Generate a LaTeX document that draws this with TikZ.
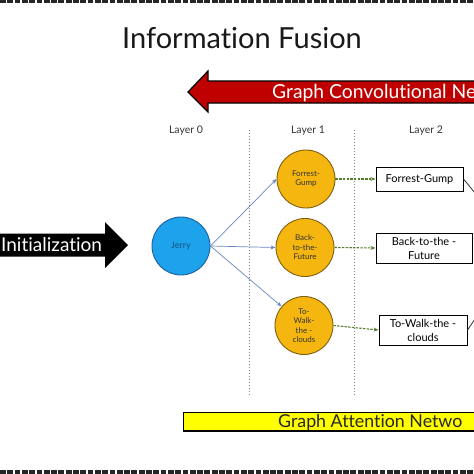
\documentclass[tikz,border=0pt]{standalone}
\usepackage{fontspec}
\setmainfont{Lato}[Ligatures={NoCommon}]
\usetikzlibrary{arrows.meta}
\definecolor{gcnred}{HTML}{C00000}
\definecolor{gatyellow}{HTML}{FFFF00}
\definecolor{jerryblue}{HTML}{1CA3EC}
\definecolor{jerryedge}{HTML}{20609F}
\definecolor{movieorange}{HTML}{F5B70F}
\definecolor{movieedge}{HTML}{7F6010}
\definecolor{linkblue}{HTML}{6A87BF}
\definecolor{dashgreen}{HTML}{557F2E}
\definecolor{sepgray}{HTML}{808080}
\begin{document}
\begin{tikzpicture}[x=1pt,y=-1pt,
  circnode/.style={circle,minimum size=58pt,inner sep=0pt,align=center,line width=0.9pt,
    font=\fontsize{8}{9.5}\selectfont,text=black!80},
  moviebox/.style={rectangle,draw=black,line width=1pt,fill=white,align=center,inner sep=0pt,
    font=\fontsize{11}{14}\selectfont},
  layerlabel/.style={font=\fontsize{10.5}{12}\selectfont,text=black!80},
  linkarrow/.style={draw=linkblue,line width=0.7pt,-{Stealth[length=5pt,width=4pt]}},
  dasharrow/.style={draw=dashgreen,line width=1.1pt,dash pattern=on 2.5pt off 1.2pt,-{Stealth[length=5pt,width=4pt]}},
  sepline/.style={draw=sepgray,line width=0.8pt,dash pattern=on 1pt off 2pt},
  borderline/.style={draw=black!85,line width=3.5pt,dash pattern=on 5.8pt off 1.5pt}]
\useasboundingbox (0,0) rectangle (474,474);
\clip (0,0) rectangle (474,474);
\fill[white] (0,0) rectangle (474,474);
% borders
\draw[borderline] (0,1.5) -- (480,1.5);
\draw[borderline] (0,472) -- (480,472);
% title
\node[font=\fontsize{29}{32}\selectfont,text=black!90] (title) at (242,38) {Information Fusion};
% red arrow
\draw[fill=gcnred,draw=black,line width=1.2pt,line join=miter]
  (188,92) -- (208,71) -- (208,81) -- (490,81) -- (490,103) -- (208,103) -- (208,112) -- cycle;
\node[anchor=west,text=white,font=\fontsize{19.3}{24}\selectfont,inner sep=0pt] (gcn) at (272,93) {Graph Convolutional Ne};
% init arrow
\fill[black] (-5,233.5) -- (105,233.5) -- (105,222) -- (128,245) -- (105,268) -- (105,256.5) -- (-5,256.5) -- cycle;
\node[anchor=west,text=white,font=\fontsize{19}{22}\selectfont,inner sep=0pt] (init) at (1,245) {Initialization};
% yellow bar
\draw[fill=gatyellow,draw=black,line width=1.6pt] (183.5,412.5) rectangle (490,431);
\node[anchor=west,text=black!85,font=\fontsize{17.8}{22}\selectfont,inner sep=0pt] (gat) at (278,422) {Graph Attention Netwo};
% layer labels
\node[layerlabel] (l0) at (186,131) {Layer 0};
\node[layerlabel] (l1) at (308,131) {Layer 1};
\node[layerlabel] (l2) at (426,131) {Layer 2};
% separators
\coordinate (s1t) at (249.5,130);
\coordinate (s1b) at (249.5,396);
\coordinate (s2t) at (354,130);
\coordinate (s2b) at (354,396);
\draw[sepline] (s1t) -- (s1b);
\draw[sepline] (s2t) -- (s2b);
% circles
\node[circnode,fill=jerryblue,draw=jerryedge,font=\fontsize{9}{10}\selectfont,text=jerryedge!80!black] (jerry) at (181,246) {Jerry};
\node[circnode,fill=movieorange,draw=movieedge] (fg) at (306,179) {Forrest-\\Gump};
\node[circnode,fill=movieorange,draw=movieedge] (bf) at (305,247.5) {Back-\\to-the-\\Future};
\node[circnode,fill=movieorange,draw=movieedge] (tw) at (304,325.5) {To-\\Walk-\\the -\\clouds};
% boxes
\node[moviebox,minimum width=87pt,minimum height=24pt] (b1) at (419.5,179) {Forrest-Gump};
\node[moviebox,minimum width=96pt,minimum height=30pt] (b2) at (424,248) {Back-to-the -\\Future};
\node[moviebox,minimum width=88pt,minimum height=30pt] (b3) at (423,330) {To-Walk-the -\\clouds};
% links
\draw[linkarrow] (jerry.east) -- (fg.west);
\draw[linkarrow] (jerry.east) -- (bf.west);
\draw[linkarrow] (jerry.east) -- (tw);
\draw[dasharrow] (fg.east) -- (b1.west);
\draw[dasharrow] (bf.east) -- (b2.west);
\draw[dasharrow] (tw.east) -- (b3.west);
% partial outgoing lines
\coordinate (o1) at (489,210);
\coordinate (o3) at (488,300);
\draw[black!80,line width=0.8pt] (b1.east) -- (o1);
\draw[black!80,line width=0.8pt] (b3.east) -- (o3);
\end{tikzpicture}
\end{document}
